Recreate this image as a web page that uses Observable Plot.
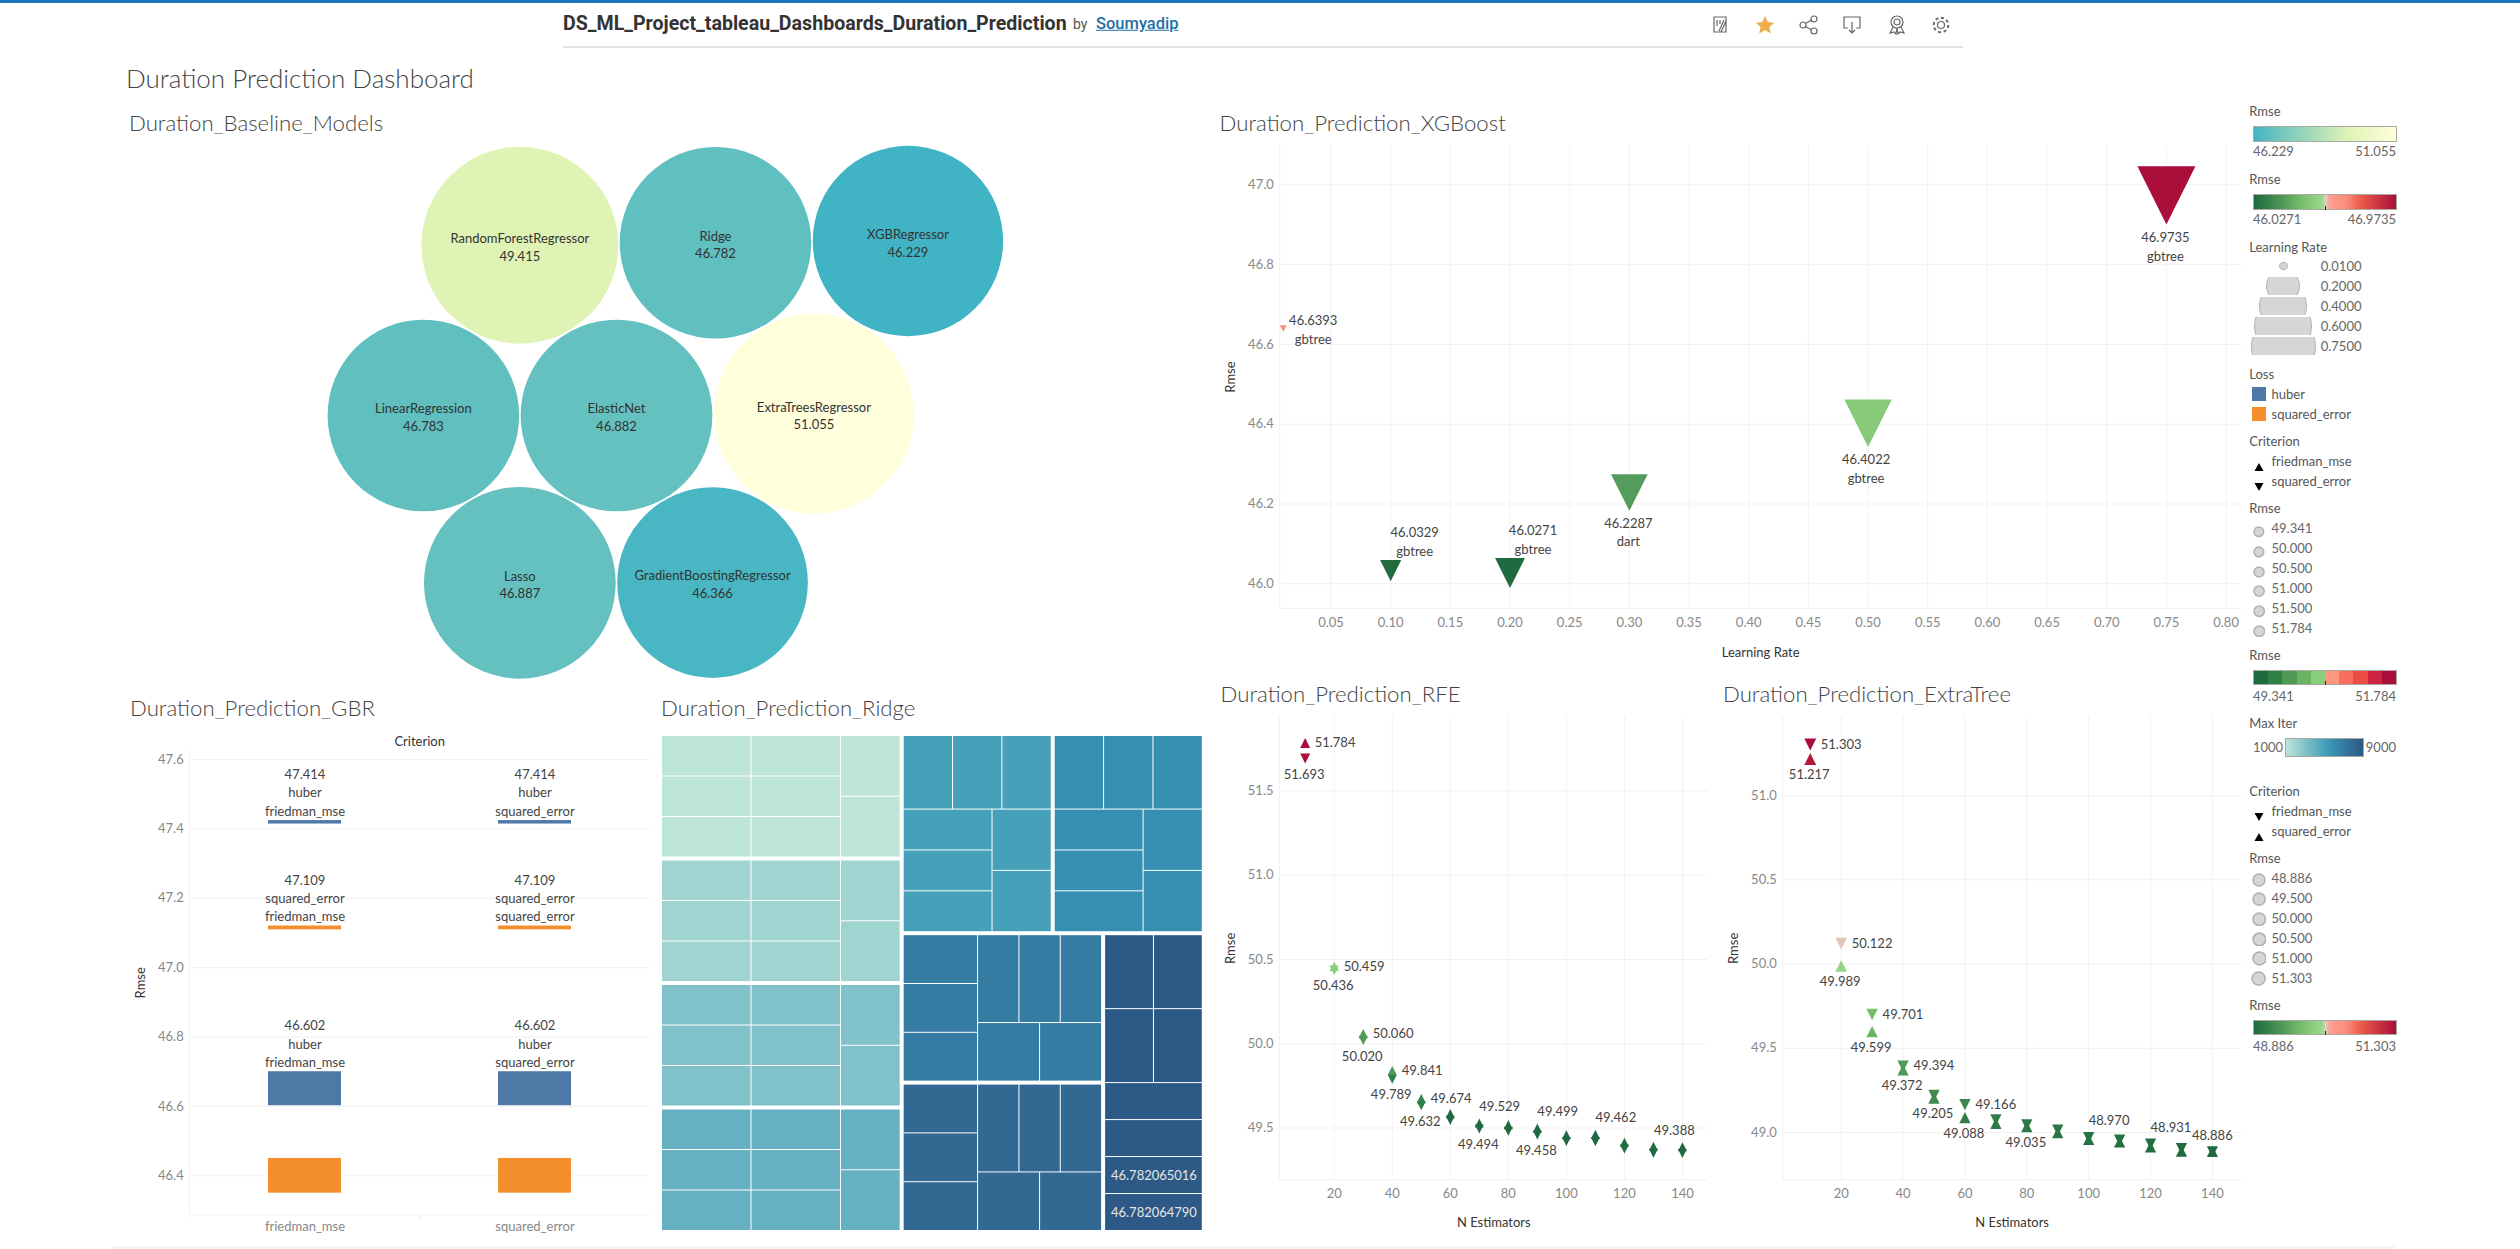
<!DOCTYPE html>
<html><head><meta charset="utf-8">
<script src="https://cdn.jsdelivr.net/npm/d3@7"></script>
<script src="https://cdn.jsdelivr.net/npm/@observablehq/plot@0.6"></script>
<style>
html,body{margin:0;padding:0;background:#fff;width:2520px;height:1249px;overflow:hidden}
#root{position:relative;width:2520px;height:1249px;font-family:Lato,sans-serif;color:#444}
#root>*{position:absolute}
.t{white-space:nowrap;transform:translateY(-50%);line-height:1}
</style></head><body><div id="root"></div>
<script>
// ---------- data ----------
const baselineModels=["ElasticNet","LinearRegression","RandomForestRegressor","Lasso","GradientBoostingRegressor","ExtraTreesRegressor","Ridge","XGBRegressor"];
const baselineRmse=[46.882,46.783,49.415,46.887,46.366,51.055,46.782,46.229];

const xgbLearningRate=[0.75,0.5,0.3,0.2,0.1,0.01];
const xgbRmse=[46.9735,46.4022,46.2287,46.0271,46.0329,46.6393];
const xgbBooster=["gbtree","gbtree","dart","gbtree","gbtree","gbtree"];
const xgbXTicks=[0.05,0.10,0.15,0.20,0.25,0.30,0.35,0.40,0.45,0.50,0.55,0.60,0.65,0.70,0.75,0.80];
const xgbYTicks=[46.0,46.2,46.4,46.6,46.8,47.0];

const gbrCriteria=["friedman_mse","squared_error"];
const gbrLoss=["huber","squared_error","huber","squared_error"];
const gbrLow=[47.414,47.109,46.602,46.35];
const gbrHigh=[47.424,47.12,46.70,46.45];
const gbrLabelled=[true,true,true,false];
const gbrYTicks=[46.4,46.6,46.8,47.0,47.2,47.4,47.6];

const ridgeMaxIter=[1000,2000,3000,4000,5000,6000,7000,8000,9000];
const ridgeRmse1000=[46.782071204,46.782071102,46.782071031,46.782070977,46.782070912,46.782070866,46.782070801,46.782070745];
const ridgeRmse2000=[46.782070690,46.782070622,46.782070581,46.782070534,46.782070477,46.782070413,46.782070366,46.782070310];
const ridgeRmse3000=[46.782070255,46.782070201,46.782070149,46.782070098,46.782070033,46.782069987,46.782069925,46.782069874];
const ridgeRmse4000=[46.782069811,46.782069768,46.782069702,46.782069655,46.782069590,46.782069543,46.782069488,46.782069436];
const ridgeRmse5000=[46.782069381,46.782069320,46.782069274,46.782069218,46.782069163,46.782069107,46.782069055,46.782068992];
const ridgeRmse6000=[46.782068940,46.782068881,46.782068827,46.782068770,46.782068716,46.782068664,46.782068603,46.782068551];
const ridgeRmse7000=[46.782068492,46.782068437,46.782068380,46.782068326,46.782068271,46.782068214,46.782068158,46.782068101];
const ridgeRmse8000=[46.782068043,46.782067988,46.782067925,46.782067872,46.782067811,46.782067756,46.782067695,46.782067640];
const ridgeRmse9000=[46.782067580,46.782067300,46.782067020,46.782066740,46.782066310,46.782065720,46.782065016,46.782064790];
const ridgeSeries=[ridgeRmse1000,ridgeRmse2000,ridgeRmse3000,ridgeRmse4000,ridgeRmse5000,ridgeRmse6000,ridgeRmse7000,ridgeRmse8000,ridgeRmse9000];
const ridgeShown=[46.782065016,46.782064790];

const rfeEstimators=[10,20,30,40,50,60,70,80,90,100,110,120,130,140];
const rfeFriedman=[51.784,50.459,50.060,49.841,49.674,49.585,49.529,49.520,49.499,49.460,49.462,49.415,49.392,49.388];
const rfeSquared=[51.693,50.436,50.020,49.789,49.632,49.545,49.494,49.480,49.458,49.420,49.418,49.375,49.350,49.348];
const rfeXTicks=[20,40,60,80,100,120,140];
const rfeYTicks=[49.5,50.0,50.5,51.0,51.5];

const etEstimators=[10,20,30,40,50,60,70,80,90,100,110,120,130,140];
const etFriedman=[51.303,50.122,49.701,49.394,49.220,49.166,49.075,49.045,49.015,48.970,48.955,48.931,48.905,48.886];
const etSquared=[51.217,49.989,49.599,49.372,49.205,49.088,49.055,49.035,49.000,48.960,48.945,48.915,48.890,48.888];
const etYTicks=[49.0,49.5,50.0,50.5,51.0];

// ---------- styles ----------
const FONT="Lato,sans-serif";
const baselineDomain=[46.229,46.782,49.415,51.055];
const baselineRange=["#40b4c4","#60bfbf","#dff3b5","#ffffdc"];
const rgStops=[0,0.2,0.3,0.4,0.48,0.505,0.53,0.65,0.75,1];
const rgColors=["#1f6a3e","#50985a","#6cb564","#88cc7a","#9bd68d","#d8d2c4","#ffa08e","#fb8d7b","#ee5b4b","#aa0e3a"];
const rfeSteps=["#1f6a3e","#2e8046","#4f9a55","#6bb264","#8acd7b","#ff9680","#f86f5c","#ec4b46","#cf2440","#ab0e3a"];
const ridgePalette=["#bde5da","#9fd4d0","#81c1c9","#65b0c1","#47a0b9","#368eb0","#347ca1","#316993","#2c5985"];
const lossColors=["#4e79a7","#f28e2b"];
const AXIS="#888", TITLE="#333", LABEL="#444", GRID="#f1f1f1";
const root=document.getElementById("root");

const span=(dom,t)=>dom[0]+t*(dom[1]-dom[0]);
const triUp={draw(c,size){const s=Math.sqrt(size/Math.PI);c.moveTo(-s,s);c.lineTo(s,s);c.lineTo(0,-s);c.closePath();}};
const triDown={draw(c,size){const s=Math.sqrt(size/Math.PI);c.moveTo(-s,-s);c.lineTo(s,-s);c.lineTo(0,s);c.closePath();}};

function put(svg,left,top){svg.style.position="absolute";svg.style.left=left+"px";svg.style.top=top+"px";svg.style.maxWidth="none";svg.style.height=svg.getAttribute("height")+"px";svg.style.background="transparent";root.appendChild(svg);}
function txt(s,x,y,o={}){const d=document.createElement(o.href?"a":"div");d.className="t";d.textContent=s;
 d.style.cssText+=`left:${x}px;top:${y}px;font-size:${o.size||13}px;color:${o.color||"#555"};font-weight:${o.weight||400};font-family:${o.font||FONT};`;
 if(o.right!==undefined){d.style.left="auto";d.style.right=(2520-o.right)+"px";}
 if(o.href){d.href=o.href;d.style.textDecoration="underline";}
 root.appendChild(d);return d;}
function box(x0,y0,x1,y1,bg,extra=""){const d=document.createElement("div");d.style.cssText=`left:${x0}px;top:${y0}px;width:${x1-x0}px;height:${y1-y0}px;background:${bg};box-sizing:border-box;${extra}`;root.appendChild(d);return d;}
function svgEl(x,y,w,h,inner){const d=document.createElement("div");d.style.cssText=`left:${x}px;top:${y}px;width:${w}px;height:${h}px;`;d.innerHTML=`<svg width="${w}" height="${h}" viewBox="0 0 ${w} ${h}" xmlns="http://www.w3.org/2000/svg">${inner}</svg>`;root.appendChild(d);}
const TITLEFONT={size:22.2,color:"#444",weight:300};

// ---------- page chrome ----------
box(0,0,2520,3,"#1b75bb");
txt("DS_ML_Project_tableau_Dashboards_Duration_Prediction",563,24,{size:19.6,weight:700,color:"#333",font:"Roboto,sans-serif"});
txt("by",1073,24,{size:14,color:"#555",font:"Roboto,sans-serif"});
txt("Soumyadip",1096,24,{size:16.5,color:"#1f6fa8",weight:500,font:"Roboto,sans-serif",href:"#"});
box(563,46,1963,48,"#e2e2e2");
box(112,1246,2395,1249,"#f5f5f5");
const ic='fill="none" stroke="#666" stroke-width="1.2"';
svgEl(1711,15,20,20,`<path d="M3 2h12v15H3z M15 6l-5 11 M13 5l-5 11 M6 5v6 M9 5v4" ${ic}/>`);
svgEl(1755,15,20,20,`<path d="M10 1l2.8 6 6.4.7-4.8 4.3 1.4 6.4L10 15l-5.8 3.400 1.400-6.400L.8 7.700 7.200 7z" fill="#f0ad4e"/>`);
svgEl(1799,15,20,20,`<circle cx="15" cy="4" r="3" ${ic}/><circle cx="4" cy="10" r="3" ${ic}/><circle cx="15" cy="16" r="3" ${ic}/><path d="M6.500 8.500l6-3.500M6.500 11.500l6 3.500" ${ic}/>`);
svgEl(1842,15,20,20,`<path d="M6 13H2V2h16v11h-4 M10 7v11 M7 15l3 3 3-3" ${ic}/>`);
svgEl(1887,15,20,20,`<circle cx="10" cy="7" r="6" ${ic}/><circle cx="10" cy="7" r="3" ${ic}/><path d="M6 12l-3 6 4-1 2 2 1-6 1 6 2-2 4 1-3-6" ${ic}/>`);
svgEl(1931,15,20,20,`<circle cx="10" cy="10" r="3.500" ${ic}/><circle cx="10" cy="10" r="7.300" stroke-dasharray="3 2.700" fill="none" stroke="#666" stroke-width="2"/>`);

txt("Duration Prediction Dashboard",126,77.500,{size:26,color:"#444",weight:300});
txt("Duration_Baseline_Models",129,123,TITLEFONT);
txt("Duration_Prediction_XGBoost",1219.600,123,TITLEFONT);
txt("Duration_Prediction_GBR",130,707.500,TITLEFONT);
txt("Duration_Prediction_Ridge",661,707.500,TITLEFONT);
txt("Duration_Prediction_RFE",1220.600,694,TITLEFONT);
txt("Duration_Prediction_ExtraTree",1723,694,TITLEFONT);

// ---------- bubbles (tangent packing computed from the radii) ----------
const bubbleK=14,bubbleGap=1.5;
const rad=v=>bubbleK*Math.sqrt(v);
function tangent(a,b,r,side){const dx=b.x-a.x,dy=b.y-a.y,d=Math.hypot(dx,dy),ra=a.r+r+bubbleGap,rb=b.r+r+bubbleGap,x=(d*d+ra*ra-rb*rb)/(2*d),h=Math.sqrt(ra*ra-x*x);
 return {x:a.x+x*dx/d-side*h*dy/d,y:a.y+x*dy/d+side*h*dx/d,r};}
const R=baselineRmse.map(rad);
const pE={x:0,y:0,r:R[0]},pL={x:-(R[0]+R[1]+bubbleGap),y:0,r:R[1]};
const pRF=tangent(pL,pE,R[2],-1),pLa=tangent(pL,pE,R[3],1),pG=tangent(pLa,pE,R[4],1),pET=tangent(pG,pE,R[5],1),pRi=tangent(pRF,pET,R[6],-1),pX=tangent(pRi,pET,R[7],-1);
const packed=[pE,pL,pRF,pLa,pG,pET,pRi,pX];
const bubbles=baselineModels.map((m,i)=>({model:m,rmse:baselineRmse[i],x:packed[i].x,y:packed[i].y}));
put(Plot.plot({width:800,height:560,margin:0,style:{fontFamily:FONT},
 x:{domain:[-366,434],range:[0,800],axis:null},y:{domain:[-285,275],range:[0,560],axis:null},
 r:{type:"sqrt",domain:[0,1],range:[0,bubbleK]},
 color:{type:"linear",domain:baselineDomain,range:baselineRange,interpolate:"rgb"},
 marks:[
  Plot.dot(bubbles,{x:"x",y:"y",r:"rmse",fill:"rmse"}),
  Plot.text(bubbles,{x:"x",y:"y",dy:1,text:d=>d.model+"\n"+d3.format(".3f")(d.rmse),fontSize:13,lineHeight:1.37,fill:TITLE})
 ]}),250,130);

// ---------- XGBoost ----------
const xgb=xgbLearningRate.map((lr,i)=>({lr,rmse:xgbRmse[i],booster:xgbBooster[i],text:d3.format(".4f")(xgbRmse[i])+"\n"+xgbBooster[i]}));
const xgbPlace=[{lr:.75,dx:-1,dy:50.300},{lr:.5,dx:-2,dy:44},{lr:.3,dx:-1,dy:38.500},{lr:.2,dx:23,dy:-34.500},{lr:.1,dx:24,dy:-30},{lr:.01,dx:30,dy:0}];
const xgbDomainY=[45.938,47.0985],xgbDomainX=[0.0071,0.8129];
put(Plot.plot({width:1035,height:540,marginLeft:69.3,marginRight:4,marginTop:15,marginBottom:62,style:{fontFamily:FONT,fontSize:"13px"},
 x:{domain:xgbDomainX},y:{domain:xgbDomainY},
 r:{type:"sqrt",domain:[0,1],range:[0,33.5]},
 color:{type:"linear",domain:rgStops.map(t=>span([46.0271,46.9735],t)),range:rgColors,interpolate:"rgb"},
 marks:[
  Plot.gridX(xgbXTicks,{stroke:GRID,strokeOpacity:1}),Plot.gridY(xgbYTicks,{stroke:GRID,strokeOpacity:1}),
  Plot.ruleX([xgbDomainX[0]],{stroke:GRID}),Plot.ruleY([xgbDomainY[0]],{stroke:GRID}),
  Plot.axisX(xgbXTicks,{tickSize:0,tickPadding:9,fill:AXIS,tickFormat:d3.format(".2f"),label:null}),
  Plot.axisY(xgbYTicks,{tickSize:0,tickPadding:6,fill:AXIS,tickFormat:d3.format(".1f"),label:null}),
  Plot.text(["Learning Rate"],{frameAnchor:"bottom",dy:44,lineAnchor:"middle",textAnchor:"middle",fill:TITLE,fontSize:13}),
  Plot.text(["Rmse"],{frameAnchor:"left",dx:-49,rotate:-90,lineAnchor:"middle",textAnchor:"middle",fill:TITLE,fontSize:13}),
  Plot.dot(xgb,{x:"lr",y:"rmse",r:"lr",fill:"rmse",symbol:triDown}),
  ...xgbPlace.map(p=>Plot.text(xgb.filter(d=>d.lr===p.lr),{x:"lr",y:"rmse",text:"text",dx:p.dx,dy:p.dy,fontSize:13,lineHeight:1.43,fill:LABEL}))
 ]}),1210,130);

// ---------- GBR ----------
const gbrRows=gbrCriteria.flatMap(c=>gbrLoss.map((l,i)=>({criterion:c,loss:l,low:gbrLow[i],high:gbrHigh[i],show:gbrLabelled[i]})));
const gbrDomainY=[46.287,47.626];
box(189,750,190,1218,GRID);
box(419,1214,420,1218,"#e4e4e4");
put(Plot.plot({width:535,height:510,marginLeft:69.2,marginRight:5.8,marginTop:20,marginBottom:25.5,style:{fontFamily:FONT,fontSize:"13px"},
 x:{type:"band",domain:gbrCriteria,paddingInner:0.683,paddingOuter:0.3415},y:{domain:gbrDomainY},
 color:{type:"ordinal",domain:["huber","squared_error"],range:lossColors},
 marks:[
  Plot.gridY(gbrYTicks,{stroke:GRID,strokeOpacity:1}),
  Plot.ruleY([gbrDomainY[0]],{stroke:GRID}),
  Plot.axisX({tickSize:0,tickPadding:7,fill:AXIS,label:null}),
  Plot.axisY(gbrYTicks,{tickSize:0,tickPadding:6,fill:AXIS,tickFormat:d3.format(".1f"),label:null}),
  Plot.text(["Criterion"],{frameAnchor:"top",dy:-9,lineAnchor:"middle",textAnchor:"middle",fill:TITLE,fontSize:13}),
  Plot.text(["Rmse"],{frameAnchor:"left",dx:-49,rotate:-90,lineAnchor:"middle",textAnchor:"middle",fill:TITLE,fontSize:13}),
  Plot.barY(gbrRows,{x:"criterion",y1:"low",y2:"high",fill:"loss"}),
  Plot.text(gbrRows.filter(d=>d.show),{x:"criterion",y:"high",text:d=>d3.format(".3f")(d.low)+"\n"+d.loss+"\n"+d.criterion,lineAnchor:"bottom",dy:-5,fontSize:13,lineHeight:1.4,fill:LABEL})
 ]}),120,730);

// ---------- Ridge treemap ----------
const W=539.8,H=494;
const ridgeTree=d3.hierarchy({children:ridgeMaxIter.map((m,i)=>({maxIter:m,children:ridgeSeries[i].map(v=>({maxIter:m,rmse:v}))}))}).sum(d=>d.rmse||0);
const ridgeTile=(node,x0,y0,x1,y1)=>{
 if(node.depth===1&&node.data.maxIter===9000){
  const head=node.children.slice(0,6),tail=node.children.slice(6),hv=d3.sum(head,d=>d.value),tv=d3.sum(tail,d=>d.value),split=y0+(y1-y0)*hv/node.value;
  d3.treemapSquarify({children:head,value:hv},x0,y0,x1,split);
  d3.treemapSlice({children:tail,value:tv},x0,split,x1,y1);
 } else d3.treemapSquarify(node,x0,y0,x1,y1);
};
d3.treemap().size([W,H]).tile(ridgeTile).paddingInner(n=>n.depth===0?4:1)(ridgeTree);
const ridgeCells=ridgeTree.leaves().map(l=>({x0:l.x0,x1:l.x1,y0:l.y0,y1:l.y1,iter:l.data.maxIter,rmse:l.data.rmse}));
put(Plot.plot({width:W,height:H,margin:0,style:{fontFamily:FONT},
 x:{domain:[0,W],range:[0,W],axis:null},y:{domain:[0,H],range:[0,H],axis:null},
 color:{type:"linear",domain:ridgeMaxIter,range:ridgePalette,interpolate:"rgb"},
 marks:[
  Plot.rect(ridgeCells,{x1:"x0",x2:"x1",y1:"y0",y2:"y1",fill:"iter"}),
  Plot.text(ridgeCells.filter(d=>ridgeShown.includes(d.rmse)),{x:d=>(d.x0+d.x1)/2,y:d=>(d.y0+d.y1)/2,text:d=>d3.format(".9f")(d.rmse),fill:"#e6e6e6",fontSize:13})
 ]}),662,736);

// ---------- RFE / ExtraTree ----------
function scatter(o){
 const up=o.n.map((n,i)=>({n,rmse:o.a[i]})),down=o.n.map((n,i)=>({n,rmse:o.b[i]}));
 const pick=(rows,ns)=>rows.filter(d=>ns.includes(d.n));
 const fmt=d=>d3.format(".3f")(d.rmse);
 return Plot.plot({width:o.w,height:540,marginLeft:o.ml,marginRight:o.mr,marginTop:16.5,marginBottom:60.8,style:{fontFamily:FONT,fontSize:"13px"},
 x:{domain:o.dx},y:{domain:o.dy},color:o.color,r:{type:"linear",domain:o.sizeDomain,range:o.sizeRange},
 marks:[
  Plot.gridX(rfeXTicks,{stroke:GRID,strokeOpacity:1}),Plot.gridY(o.yt,{stroke:GRID,strokeOpacity:1}),
  Plot.ruleX([o.dx[0]],{stroke:GRID}),Plot.ruleY([o.dy[0]],{stroke:GRID}),
  Plot.axisX(rfeXTicks,{tickSize:0,tickPadding:9,fill:AXIS,label:null}),
  Plot.axisY(o.yt,{tickSize:0,tickPadding:6,fill:AXIS,tickFormat:d3.format(".1f"),label:null}),
  Plot.text(["N Estimators"],{frameAnchor:"bottom",dy:43.600,lineAnchor:"middle",textAnchor:"middle",fill:TITLE,fontSize:13}),
  Plot.text(["Rmse"],{frameAnchor:"left",dx:-48.600,rotate:-90,lineAnchor:"middle",textAnchor:"middle",fill:TITLE,fontSize:13}),
  Plot.dot(up,{x:"n",y:"rmse",r:"rmse",fill:"rmse",symbol:o.symA}),
  Plot.dot(down,{x:"n",y:"rmse",r:"rmse",fill:"rmse",symbol:o.symB}),
  Plot.text(pick(up,o.right),{x:"n",y:"rmse",text:fmt,textAnchor:"start",dx:o.rightDx,fill:LABEL,fontSize:13}),
  Plot.text(pick(up,o.above),{x:"n",y:"rmse",text:fmt,textAnchor:"start",dy:-16.300,fill:LABEL,fontSize:13}),
  Plot.text(pick(up,o.edge),{x:"n",y:"rmse",text:fmt,textAnchor:"start",dx:o.edgeDx,dy:-16,fill:LABEL,fontSize:13}),
  Plot.text(pick(down,o.below),{x:"n",y:"rmse",text:fmt,dx:-1,dy:16,fill:LABEL,fontSize:13})
 ]});
}
put(scatter({n:rfeEstimators,a:rfeFriedman,b:rfeSquared,w:500,ml:69,mr:2.500,dx:[1.15,148.8],dy:[49.193,51.939],yt:rfeYTicks,sizeDomain:[49.341,51.784],sizeRange:[4.5,5],rightDx:9.500,symA:triUp,symB:triDown,
 color:{type:"quantize",domain:[49.341,51.784],range:rfeSteps},
 right:[10,20,30,40,50],above:[70,90,110],edge:[140],below:[10,20,30,40,50,70,90],edgeDx:-28.500}),1210,700);
put(scatter({n:etEstimators,a:etFriedman,b:etSquared,w:525,ml:62.300,mr:4,dx:[1.13,149.4],dy:[48.72,51.467],yt:etYTicks,sizeDomain:[48.886,51.303],sizeRange:[5.6,6],rightDx:10.500,symA:triDown,symB:triUp,
 color:{type:"linear",domain:rgStops.map(t=>span([48.886,51.303],t)),range:rgColors,interpolate:"rgb"},
 right:[10,20,30,40,60],above:[100,120],edge:[140],below:[10,20,30,40,50,60,80],edgeDx:-20.500}),1720,700);

// ---------- legends ----------
const LX=2249.300,VX=2271.500,CX=2259;
const grad=(stops,colors)=>`linear-gradient(to right,${colors.map((c,i)=>c+" "+(stops[i]*100)+"%").join(",")})`;
function ramp(y0,y1,bg,lo,hi,yl,tick){box(2253,y0,2397,y1,bg,"border:1px solid #a9a9a0;");
 if(tick)box(2325,y1-4,2326,y1,"#222");
 txt(lo,2253,yl,{color:"#666"});txt(hi,0,yl,{color:"#666",right:2396});}
txt("Rmse",LX,111,{color:"#555"});
ramp(126,142,grad(baselineDomain.map(v=>(v-46.229)/(51.055-46.229)),baselineRange),"46.229","51.055",151.400);
txt("Rmse",LX,179,{color:"#555"});
ramp(194.300,209.600,grad(rgStops,rgColors),"46.0271","46.9735",219.300,true);
txt("Learning Rate",LX,246.800,{color:"#555"});
const lrLegend=[["0.0100",8.700],["0.2000",34],["0.4000",48],["0.6000",58],["0.7500",65]];
lrLegend.forEach(([s,d],i)=>{const yc=266+i*20,h=i===0?d:18;
 const clip=box(2283.300-d/2,yc-h/2,2283.300+d/2,yc+h/2,"transparent","overflow:hidden;");
 const c=document.createElement("div");c.style.cssText=`position:absolute;left:0;top:${(h-d)/2}px;width:${d}px;height:${d}px;border-radius:50%;background:#d6d6d6;border:1.500px solid #b0b0b0;box-sizing:border-box;`;clip.appendChild(c);
 txt(s,2320.700,yc,{color:"#666"});});
txt("Loss",LX,373.600,{color:"#555"});
box(2252,387,2266,400.700,lossColors[0]);txt("huber",VX,393.600);
box(2252,407,2266,421,lossColors[1]);txt("squared_error",VX,414);
const triGlyph=(x,y,up)=>svgEl(x-5,y-5,10,10,up?`<path d="M.5 9h9L5 1z" fill="#000"/>`:`<path d="M.5 1h9L5 9z" fill="#000"/>`);
txt("Criterion",LX,440.700,{color:"#555"});
triGlyph(CX,460.700,true);txt("friedman_mse",VX,460.700);
triGlyph(CX,480.700,false);txt("squared_error",VX,480.700);
const circleGlyph=(x,y,r)=>svgEl(x-r-1,y-r-1,2*r+2,2*r+2,`<circle cx="${r+1}" cy="${r+1}" r="${r}" fill="#d6d6d6" stroke="#b0b0b0" stroke-width="1.500"/>`);
txt("Rmse",LX,507.900,{color:"#555"});
["49.341","50.000","50.500","51.000","51.500","51.784"].forEach((s,i)=>{circleGlyph(CX,527.500+i*20,4.800+i*.1);txt(s,VX,527.500+i*20,{color:"#666"});});
txt("Rmse",LX,655,{color:"#555"});
const stepStops=rfeSteps.flatMap((c,i)=>[c+" "+i*10+"%",c+" "+(i+1)*10+"%"]).join(",");
ramp(670.300,685.300,`linear-gradient(to right,${stepStops})`,"49.341","51.784",695.700,true);
txt("Max Iter",LX,723,{color:"#555"});
box(2285.300,738.300,2363.700,756.700,`linear-gradient(to right,${ridgePalette.join(",")})`,"border:1px solid #a9a9a0;");
txt("1000",2253,746.700,{color:"#666"});txt("9000",0,746.700,{color:"#666",right:2396});
txt("Criterion",LX,791,{color:"#555"});
triGlyph(CX,810.700,false);txt("friedman_mse",VX,810.700);
triGlyph(CX,831,true);txt("squared_error",VX,831);
txt("Rmse",LX,858,{color:"#555"});
["48.886","49.500","50.000","50.500","51.000","51.303"].forEach((s,i)=>{circleGlyph(CX,877.700+i*20,6+i*.12);txt(s,VX,877.700+i*20,{color:"#666"});});
txt("Rmse",LX,1005,{color:"#555"});
ramp(1020.300,1035.300,grad(rgStops,rgColors),"48.886","51.303",1045.700,true);
</script></body></html>
